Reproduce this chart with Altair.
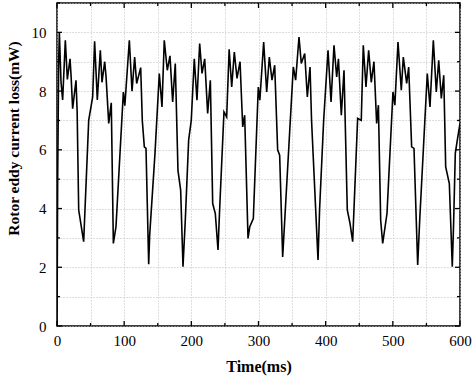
import altair as alt
import pandas as pd

time_ms = [0, 1, 2.5, 3.5, 6, 8.4, 12.4, 15.4, 19.4, 21, 23.3, 28.3, 30, 32.3, 39.7,
           47.2, 53.1, 56, 60, 64.5, 67, 71, 73, 77, 80.8, 83.9, 87.8, 98.8, 101,
           107.7, 111.7, 115.6, 118.6, 124.6, 127, 130, 132.5, 136.5, 138, 145.9,
           152.3, 156.3, 159.7, 164.2, 168.2, 172.2, 176.1, 180.1, 184.1, 187.6,
           191, 196, 199.9, 204.4, 208.4, 212.4, 215.9, 219.9, 224.3, 228.3, 231.8,
           235.7, 239.7, 242, 248.6, 252.6, 256.3, 260.1, 264, 268, 272.5, 276.5,
           279.4, 284.4, 287, 292.3, 299.7, 302, 307.7, 312.2, 316.1, 320.1, 324.1,
           328.5, 331.5, 336, 351.8, 355.3, 360.3, 363.7, 368.8, 372.7, 376.7, 379,
           388.6, 391, 397, 403.5, 408, 412.4, 416.4, 419, 423.3, 427.3, 432.2,
           436.2, 440.2, 447.6, 453, 456, 460, 464, 467.9, 471.9, 475.9, 478.5,
           481.9, 484.9, 491.3, 500.2, 503, 507.7, 512.6, 515.6, 520.6, 523.6, 528,
           531.5, 537, 540, 551.3, 555.3, 560.3, 564.7, 568.3, 572.2, 575.8, 578.7,
           584.1, 588.5, 590.5, 593, 596, 600]
loss_mw = [0, 5.0, 9.0, 10.0, 8.3, 7.7, 9.73, 8.4, 9.1, 8.5, 7.4, 8.37, 7.3, 3.95, 2.87,
           7.0, 7.8, 9.7, 7.7, 9.39, 8.3, 9.0, 8.5, 6.9, 7.6, 2.81, 3.38, 7.97, 7.5,
           9.73, 8.0, 9.16, 8.26, 8.8, 7.0, 6.1, 6.05, 2.1, 3.1, 5.88,
           8.6, 7.46, 9.73, 8.71, 9.2, 7.63, 8.94, 5.3, 4.63, 2.02,
           3.6, 6.33, 7.0, 9.1, 7.69, 9.62, 8.6, 9.1, 7.24, 8.37, 4.17,
           3.83, 2.59, 3.9, 7.29, 7.12, 9.42, 8.14, 9.33, 8.43, 9.0, 6.78,
           7.18, 2.98, 3.38, 3.66, 8.14, 7.69, 9.67, 7.97, 9.16, 8.37, 8.88,
           6.0, 5.82, 2.35, 8.82, 8.37, 9.84, 8.94, 9.28, 7.8, 8.82, 7.0,
           2.25, 4.0, 7.0, 9.39, 7.63, 9.56, 8.48, 9.1, 7.18, 8.71, 3.95,
           3.5, 2.87, 7.07, 7.0, 9.56, 8.14, 9.39, 8.3, 9.0, 6.9, 7.52,
           3.6, 2.81, 3.83, 7.97, 7.52, 9.67, 8.03, 9.16, 8.26, 8.82, 6.1,
           6.05, 2.08, 3.6, 8.6, 7.46, 9.73, 7.97, 9.05, 7.75, 8.54, 5.42,
           4.85, 2.02, 3.5, 5.88, 6.33, 6.9]

x_grid = list(range(0, 601, 50))
x_major = list(range(0, 601, 100))
x_minor = list(range(50, 600, 100))
y_grid = list(range(0, 12))
y_major = list(range(0, 12, 2))
y_minor = list(range(1, 12, 2))

W, H = 403, 323
FONT = "Liberation Serif"

df = pd.DataFrame({"t": time_ms, "v": loss_mw})
xs = alt.Scale(domain=[0, 600], nice=False, zero=False)
ys = alt.Scale(domain=[0, 11], nice=False, zero=False)

x_axis = alt.Axis(
    values=x_grid, format="d",
    labelExpr="datum.value % 100 == 0 ? datum.label : ''",
    grid=True, gridDash=[1, 2], gridColor="#bdbdbd", gridWidth=1,
    ticks=False, tickSize=0, domain=False, labelPadding=7,
    labelFont=FONT, labelFontSize=15, labelColor="black", labelFlush=False,
    title="Time(ms)", titleFont=FONT, titleFontSize=16, titleFontWeight="bold",
    titleColor="black", titleY=45, titleBaseline="alphabetic")
y_axis = alt.Axis(
    values=y_grid, format="d",
    labelExpr="datum.value % 2 == 0 ? datum.label : ''",
    grid=True, gridDash=[1, 2], gridColor="#bdbdbd", gridWidth=1,
    ticks=False, tickSize=0, domain=False, labelPadding=11,
    labelFont=FONT, labelFontSize=15, labelColor="black", labelFlush=False,
    title="Rotor eddy current loss(mW)", titleFont=FONT, titleFontSize=15.5,
    titleFontWeight="bold", titleColor="black", titleAngle=270,
    titleX=-44, titleY=135, titleAlign="center", titleBaseline="middle")

line = alt.Chart(df).mark_line(color="black", strokeWidth=1.6, clip=True).encode(
    x=alt.X("t:Q", scale=xs, axis=x_axis),
    y=alt.Y("v:Q", scale=ys, axis=y_axis),
)


def xticks(vals, length):
    d = pd.DataFrame({"t": vals})
    bottom = alt.Chart(d).mark_rule(color="black", strokeWidth=1.3).encode(
        x=alt.X("t:Q", scale=xs, axis=x_axis),
        y=alt.value(H), y2=alt.value(H - length))
    top = alt.Chart(d).mark_rule(color="black", strokeWidth=1.3).encode(
        x=alt.X("t:Q", scale=xs, axis=x_axis),
        y=alt.value(0), y2=alt.value(length))
    return [bottom, top]


def yticks(vals, length):
    d = pd.DataFrame({"v": vals})
    left = alt.Chart(d).mark_rule(color="black", strokeWidth=1.3).encode(
        y=alt.Y("v:Q", scale=ys, axis=y_axis),
        x=alt.value(0), x2=alt.value(length))
    right = alt.Chart(d).mark_rule(color="black", strokeWidth=1.3).encode(
        y=alt.Y("v:Q", scale=ys, axis=y_axis),
        x=alt.value(W), x2=alt.value(W - length))
    return [left, right]


layers = [line] + xticks(x_major, 5) + xticks(x_minor, 3) + yticks(y_major, 5) + yticks(y_minor, 3)

chart = alt.layer(*layers).properties(
    width=W, height=H,
    autosize=alt.AutoSizeParams(type="none"),
    padding={"left": 57, "top": 3, "right": 14, "bottom": 52},
    background="white",
).configure_view(stroke="black", strokeWidth=1.5)

chart.save("out.html", embed_options={"renderer": "svg", "actions": False})
